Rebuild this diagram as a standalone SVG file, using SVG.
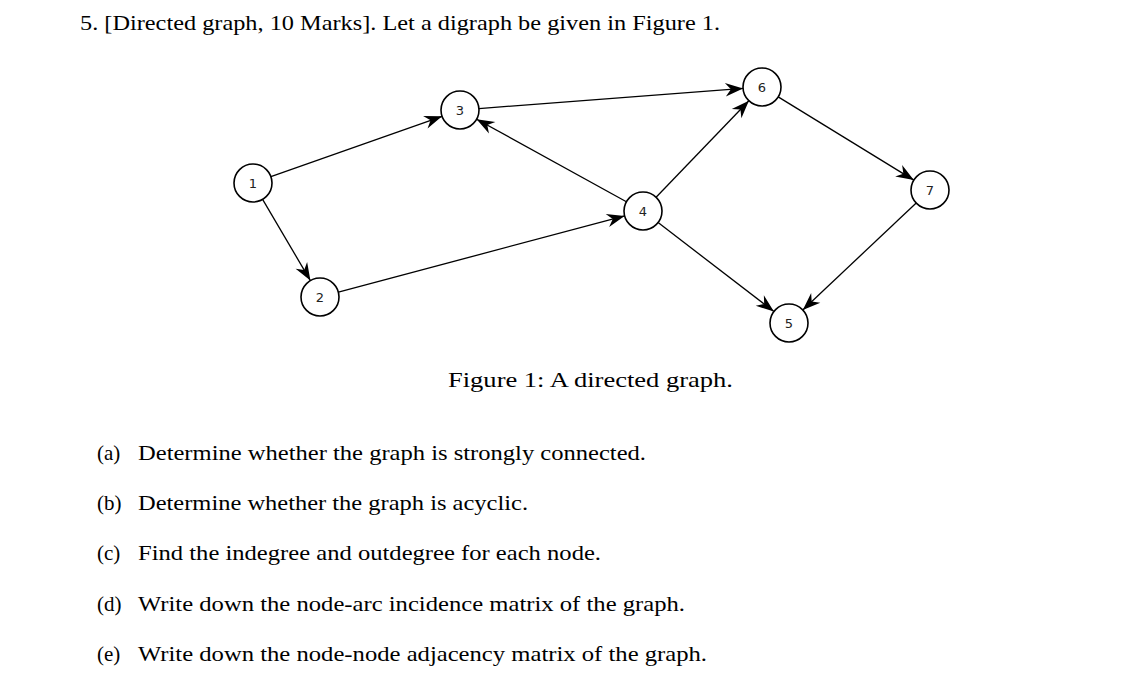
<svg xmlns="http://www.w3.org/2000/svg" width="1140" height="686" viewBox="0 0 1140 686">
<style>
.n circle{fill:#fff;stroke:#000;stroke-width:1.6}
.n text{font-family:"DejaVu Sans",sans-serif;font-size:13px;text-anchor:middle;fill:#222}
.e line{stroke:#000;stroke-width:1.3;marker-end:url(#a)}
.t{font-family:"Liberation Serif",serif;font-size:21px;fill:#000}
</style>
<defs><marker id="a" markerUnits="userSpaceOnUse" orient="auto" refX="0" refY="0" markerWidth="20" markerHeight="20" viewBox="-16 -8 18 16" overflow="visible"><path d="M0,0 L-16,-6 L-11,0 L-16,6 z" fill="#000"/></marker></defs>
<rect width="1140" height="686" fill="#fff"/>
<text class="t" x="80" y="30" textLength="640" lengthAdjust="spacingAndGlyphs">5. [Directed graph, 10 Marks]. Let a digraph be given in Figure 1.</text>
<g class="e" id="edges">
<line x1="270.9" y1="176.7" x2="442.1" y2="116.3"/>
<line x1="262.6" y1="199.4" x2="310.4" y2="280.6"/>
<line x1="338.4" y1="292.1" x2="624.6" y2="215.9"/>
<line x1="626.4" y1="201.8" x2="476.6" y2="119.2"/>
<line x1="656.1" y1="197.3" x2="748.9" y2="100.7"/>
<line x1="478.9" y1="108.6" x2="743.1" y2="88.4"/>
<line x1="778.2" y1="96.9" x2="913.8" y2="180.1"/>
<line x1="916.2" y1="203" x2="802.8" y2="310"/>
<line x1="658.1" y1="222.6" x2="773.9" y2="311.4"/>
</g>
<g class="n" id="n1"><circle cx="253" cy="183" r="19"/><text x="253" y="188">1</text></g>
<g class="n" id="n2"><circle cx="320" cy="297" r="19"/><text x="320" y="302">2</text></g>
<g class="n" id="n3"><circle cx="460" cy="110" r="19"/><text x="460" y="115">3</text></g>
<g class="n" id="n4"><circle cx="643" cy="211" r="19"/><text x="643" y="216">4</text></g>
<g class="n" id="n5"><circle cx="789" cy="323" r="19"/><text x="789" y="328">5</text></g>
<g class="n" id="n6"><circle cx="762" cy="87" r="19"/><text x="762" y="92">6</text></g>
<g class="n" id="n7"><circle cx="930" cy="190" r="19"/><text x="930" y="195">7</text></g>
<text class="t" x="448" y="387" textLength="285" lengthAdjust="spacingAndGlyphs">Figure 1: A directed graph.</text>
<text class="t" x="97" y="460">(a)</text><text class="t" x="138" y="460" textLength="508" lengthAdjust="spacingAndGlyphs">Determine whether the graph is strongly connected.</text>
<text class="t" x="97" y="510">(b)</text><text class="t" x="138" y="510" textLength="390" lengthAdjust="spacingAndGlyphs">Determine whether the graph is acyclic.</text>
<text class="t" x="97" y="560">(c)</text><text class="t" x="138" y="560" textLength="463" lengthAdjust="spacingAndGlyphs">Find the indegree and outdegree for each node.</text>
<text class="t" x="97" y="611">(d)</text><text class="t" x="138" y="611" textLength="547" lengthAdjust="spacingAndGlyphs">Write down the node-arc incidence matrix of the graph.</text>
<text class="t" x="97" y="661">(e)</text><text class="t" x="138" y="661" textLength="569" lengthAdjust="spacingAndGlyphs">Write down the node-node adjacency matrix of the graph.</text>
</svg>
